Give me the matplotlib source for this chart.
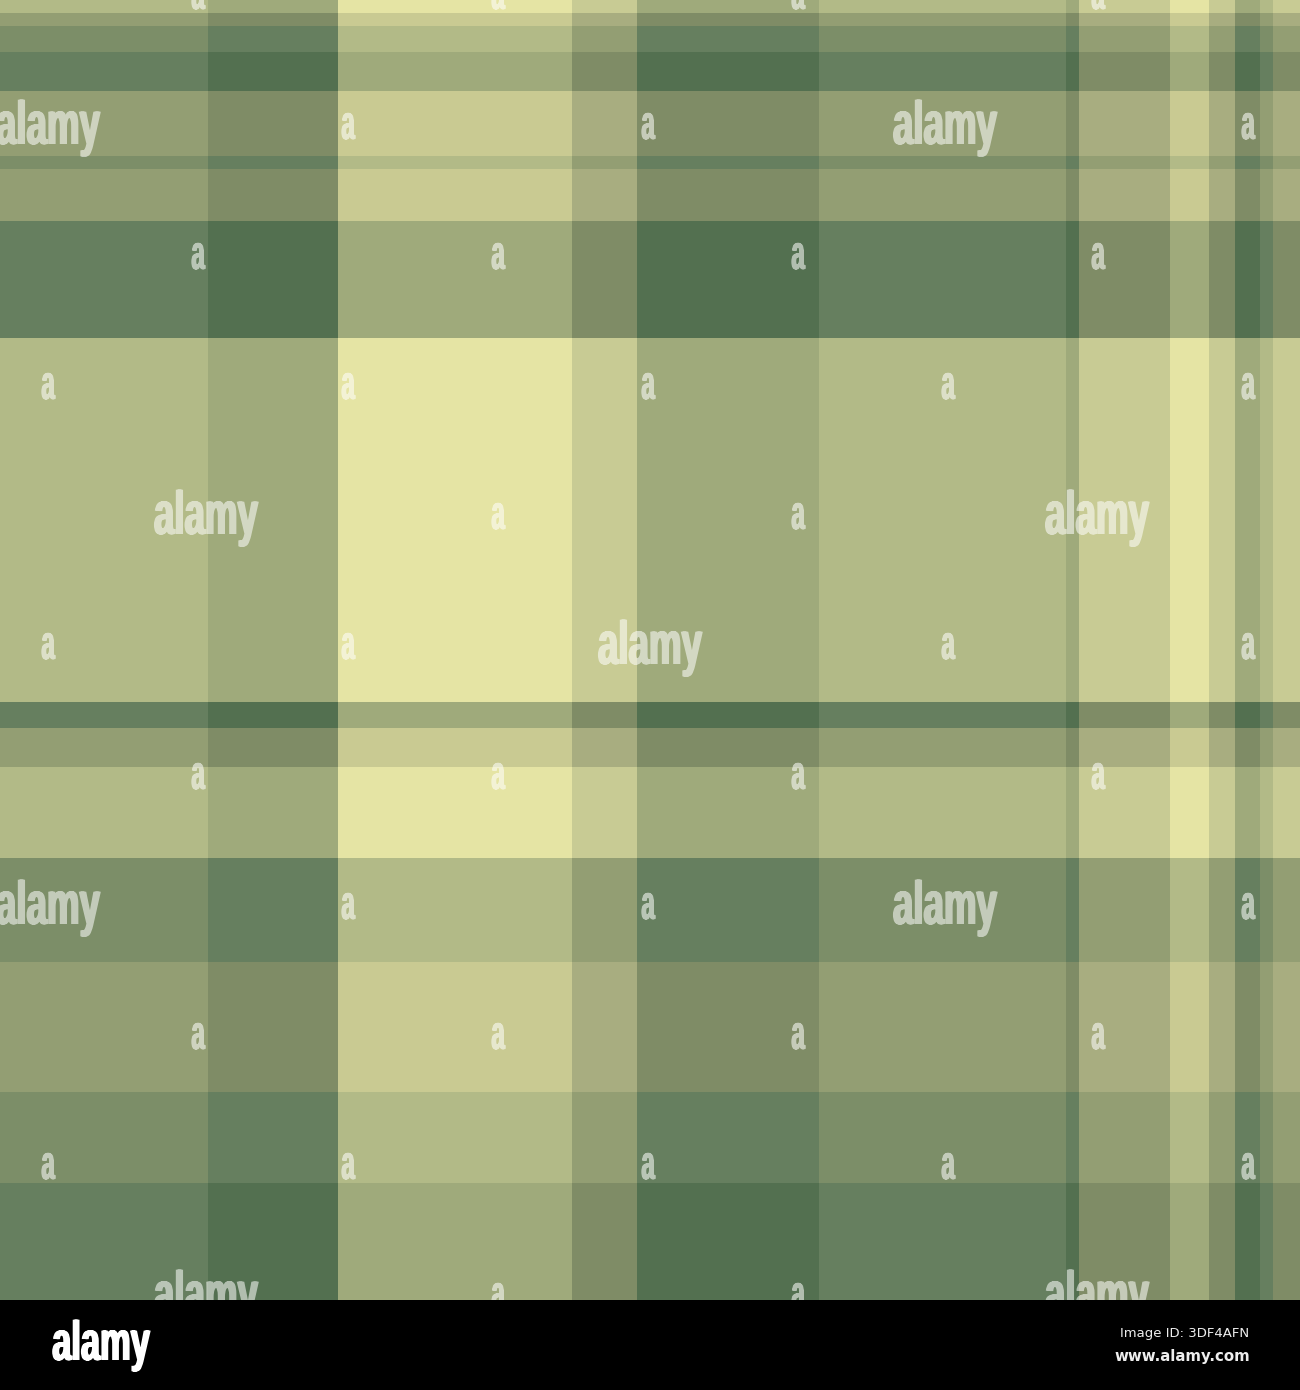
#!/usr/bin/env python

import numpy as np
import matplotlib
matplotlib.use('Agg')
import matplotlib.pyplot as plt
from matplotlib.colors import ListedColormap
from matplotlib.path import Path
from matplotlib.patheffects import AbstractPathEffect
from matplotlib.transforms import Affine2D

# band edges of the plaid, in picture pixels
xEdges = [0, 208, 338, 572, 637, 819, 1066, 1079, 1170, 1209, 1235, 1260, 1273, 1300]
yEdges = [0, 13, 26, 52, 91, 156, 169, 221, 338, 702, 728, 767, 858, 962, 1092, 1183, 1300]

# how dark each band is, 0 = no stripe, 3 = darkest
xLevels = [2, 3, 0, 1, 3, 2, 3, 1, 0, 1, 3, 2, 1]
yLevels = [0, 1, 2, 3, 1, 2, 1, 3, 0, 3, 1, 0, 2, 1, 2, 3]

# colour where a vertical level (column) crosses a horizontal level (row)
crossColors = [
    ['#E5E4A4', '#C8CB94', '#B2BA87', '#9FAA7B'],
    ['#C9CA92', '#A8AD80', '#939E73', '#7F8C66'],
    ['#B2BA87', '#939E73', '#7C8E68', '#667F5F'],
    ['#9FAA7B', '#7F8C66', '#667F5F', '#537050'],
]

# watermark positions
bigMarks = [(48, 144), (945, 144), (206, 534), (1097, 534), (650, 664),
            (48, 924), (945, 924), (206, 1314), (1097, 1314)]
smallMarks = [(198, 9), (498, 9), (798, 9), (1098, 9),
              (348, 139), (648, 139), (1248, 139),
              (198, 269), (498, 269), (798, 269), (1098, 269),
              (48, 399), (348, 399), (648, 399), (948, 399), (1248, 399),
              (498, 529), (798, 529),
              (48, 659), (348, 659), (948, 659), (1248, 659),
              (198, 789), (498, 789), (798, 789), (1098, 789),
              (348, 919), (648, 919), (1248, 919),
              (198, 1049), (498, 1049), (798, 1049), (1098, 1049),
              (48, 1179), (348, 1179), (648, 1179), (948, 1179), (1248, 1179),
              (498, 1309), (798, 1309)]


class Squeeze(AbstractPathEffect):
    # no condensed font is installed, so narrow the glyphs around their middle
    # and fatten the stems again with shifted copies of the outline
    def __init__(self, factor, fatten=3):
        super().__init__()
        self.factor = factor
        self.fatten = fatten

    def draw_path(self, renderer, gc, tpath, affine, rgbFace=None):
        verts = tpath.vertices[:, 0]
        mid = (verts.min() + verts.max()) / 2
        squeeze = Affine2D().translate(-mid, 0).scale(self.factor, 1).translate(mid, 0)
        copies = [Path(tpath.vertices + [dx, 0], tpath.codes)
                  for dx in (-self.fatten, 0, self.fatten)]
        renderer.draw_path(gc, Path.make_compound_path(*copies), squeeze + affine, rgbFace)


fig = plt.figure(figsize=(13, 13.9), dpi=100, facecolor='black')
ax = fig.add_axes([0, 90 / 1390, 1, 1300 / 1390])

flatColors = [c for row in crossColors for c in row]
cmap = ListedColormap(flatColors)
grid = np.array(yLevels)[:, None] * 4 + np.array(xLevels)[None, :]
ax.pcolormesh(xEdges, yEdges, grid, cmap=cmap, vmin=-0.5, vmax=15.5, rasterized=True)
ax.set_xlim(0, 1300)
ax.set_ylim(1300, 0)
ax.axis('off')

markFont = 'Liberation Sans'
for x, y in bigMarks:
    ax.text(x, y, 'alamy', family=markFont, weight='bold', fontsize=44, color='white',
            alpha=0.55, ha='center', va='baseline', clip_on=True, path_effects=[Squeeze(0.6)])
for x, y in smallMarks:
    ax.text(x, y, 'a', family=markFont, weight='bold', fontsize=35, color='white',
            alpha=0.55, ha='center', va='baseline', clip_on=True, path_effects=[Squeeze(0.5)])

# black footer
fig.text(101 / 1300, 1 - 1360 / 1390, 'alamy', family=markFont, weight='bold', fontsize=40,
         color='white', ha='center', va='baseline', path_effects=[Squeeze(0.62)])
fig.text(1249 / 1300, 1 - 1337 / 1390, 'Image ID: 3DF4AFN', family='DejaVu Sans', fontsize=9.5,
         color='#EEEEEE', ha='right', va='baseline')
fig.text(1250 / 1300, 1 - 1361 / 1390, 'www.alamy.com', family='DejaVu Sans', weight='bold',
         fontsize=10.8, color='#EEEEEE', ha='right', va='baseline')

fig.savefig('out.png', dpi=100, facecolor='black')
